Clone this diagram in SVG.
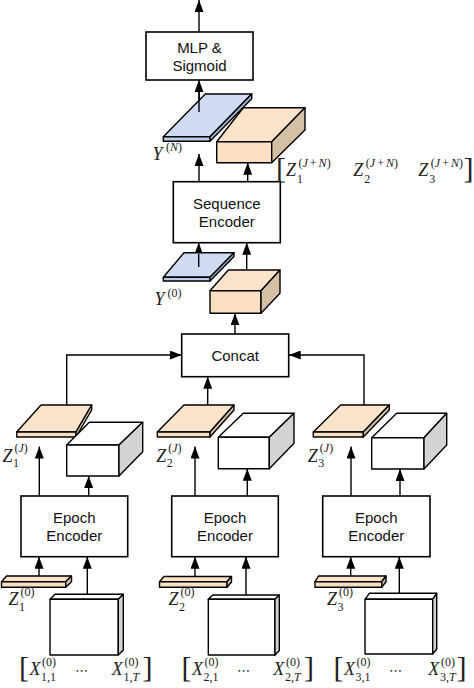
<svg xmlns="http://www.w3.org/2000/svg" width="474" height="688" viewBox="0 0 474 688">
<defs>
<marker id="ah" viewBox="0 0 12 9" refX="12" refY="4.5" markerWidth="12" markerHeight="9" orient="auto" markerUnits="userSpaceOnUse">
<path d="M0,0 L12,4.5 L0,9 z" fill="#000"/>
</marker>
<style>
.box{fill:#fff;stroke:#000;stroke-width:1.6}
.lbl{font-family:"Liberation Sans",Arial,sans-serif;font-size:15px;text-anchor:middle;fill:#111}
.m{font-family:"Liberation Serif","Times New Roman",serif;font-style:italic;font-size:18px;fill:#222}
.sc{font-size:12px}
.up{font-style:normal}
.br{font-family:"Liberation Serif","Times New Roman",serif;font-size:30px;fill:#222}
.dots{font-family:"DejaVu Sans",sans-serif;font-size:13px;fill:#222}
.conn{fill:none;stroke:#000;stroke-width:1.4;marker-end:url(#ah)}
.f{stroke:#000;stroke-width:1.4;stroke-linejoin:round}
.oT{fill:#fde3c9}.oF{fill:#fbdfc1}.oS{fill:#d5c0a6}
.bT{fill:#cfdbf3}.bF{fill:#bccdeb}.bS{fill:#a3b4d3}
.wT{fill:#fff}.wF{fill:#fff}.wS{fill:#d3d3d3}
</style>
</defs>

<!-- connectors -->
<g id="connectors">
<line class="conn" x1="199" y1="32" x2="199" y2="0"/>
<line class="conn" x1="199" y1="112" x2="199" y2="80"/>
<line class="conn" x1="199" y1="181.7" x2="199" y2="154"/>
<line class="conn" x1="247.7" y1="181.7" x2="247.7" y2="162.7"/>
<line class="conn" x1="198.7" y1="267" x2="198.7" y2="242.7"/>
<line class="conn" x1="246.7" y1="270" x2="246.7" y2="242.7"/>
<line class="conn" x1="235" y1="334" x2="235" y2="313.3"/>
<polyline class="conn" points="66.7,405 66.7,355 181.7,355"/>
<line class="conn" x1="207.7" y1="405" x2="207.7" y2="376.7"/>
<polyline class="conn" points="364,405 364,355 288.7,355"/>
<line class="conn" x1="39.3" y1="496" x2="39.3" y2="446.5"/>
<line class="conn" x1="88.7" y1="496" x2="88.7" y2="476"/>
<line class="conn" x1="195" y1="496" x2="195" y2="446.5"/>
<line class="conn" x1="247.3" y1="496" x2="247.3" y2="468.7"/>
<line class="conn" x1="351" y1="496" x2="351" y2="446.5"/>
<line class="conn" x1="400" y1="496" x2="400" y2="469"/>
<line class="conn" x1="39" y1="580" x2="39" y2="556.7"/>
<line class="conn" x1="87.3" y1="594.3" x2="87.3" y2="556.7"/>
<line class="conn" x1="195" y1="580" x2="195" y2="556.7"/>
<line class="conn" x1="246" y1="595" x2="246" y2="556.7"/>
<line class="conn" x1="350.7" y1="580" x2="350.7" y2="556.7"/>
<line class="conn" x1="399.3" y1="593.3" x2="399.3" y2="556.7"/>
</g>

<!-- MLP & Sigmoid -->
<g id="mlp">
<rect class="box" x="146" y="32" width="107" height="48"/>
<text class="lbl" x="199.5" y="53">MLP &amp;</text>
<text class="lbl" x="199.5" y="71">Sigmoid</text>
</g>

<!-- Y(N) slab -->
<g id="yN">
<polygon class="f bT" points="163.3,136.7 205.3,94 251.7,94 210,136.7"/>
<polygon class="f bF" points="163.3,136.7 210,136.7 210,141.3 163.3,141.3"/>
<polygon class="f bS" points="210,136.7 251.7,94 251.7,98.7 210,141.3"/>
<line x1="199" y1="112" x2="199" y2="92" stroke="#000" stroke-width="1.4"/>
<text class="m" x="152.5" y="159.5">Y</text>
<text class="m sc" x="166" y="151"><tspan class="up">(</tspan>N<tspan class="up">)</tspan></text>
</g>

<!-- Z(J+N) box -->
<g id="zJN">
<polygon class="f oT" points="216.7,141.7 243.3,107.7 305,107.7 271.7,141.7"/>
<polygon class="f oF" points="216.7,141.7 271.7,141.7 271.7,162.7 216.7,162.7"/>
<polygon class="f oS" points="271.7,141.7 305,107.7 305,130 271.7,162.7"/>
</g>

<g id="zJN-label">
<text class="br" x="276" y="177.5">[</text>
<text class="m" x="286" y="176">Z</text>
<text class="m sc" x="298.5" y="167"><tspan class="up">(</tspan>J<tspan class="up" dx="2">+</tspan><tspan dx="2">N</tspan><tspan class="up">)</tspan></text>
<text class="m sc up" x="297" y="182.5">1</text>
<text class="m" x="353.3" y="176">Z</text>
<text class="m sc" x="365.8" y="167"><tspan class="up">(</tspan>J<tspan class="up" dx="2">+</tspan><tspan dx="2">N</tspan><tspan class="up">)</tspan></text>
<text class="m sc up" x="364.3" y="182.5">2</text>
<text class="m" x="418.3" y="176">Z</text>
<text class="m sc" x="430.8" y="167"><tspan class="up">(</tspan>J<tspan class="up" dx="2">+</tspan><tspan dx="2">N</tspan><tspan class="up">)</tspan></text>
<text class="m sc up" x="429.3" y="182.5">3</text>
<text class="br" x="463.5" y="177.5">]</text>
</g>

<!-- Sequence Encoder -->
<g id="seqenc">
<rect class="box" x="173.3" y="181.7" width="107" height="61"/>
<text class="lbl" x="226.8" y="208.5">Sequence</text>
<text class="lbl" x="226.8" y="227">Encoder</text>
</g>

<!-- Y(0) slab -->
<g id="y0">
<polygon class="f bT" points="163.3,277.3 184,252.7 234,252.7 210,277.3"/>
<polygon class="f bF" points="163.3,277.3 210,277.3 210,281 163.3,281"/>
<polygon class="f bS" points="210,277.3 234,252.7 234,256.5 210,281"/>
<line x1="198.7" y1="267" x2="198.7" y2="254" stroke="#000" stroke-width="1.4"/>
<text class="m" x="154.5" y="305">Y</text>
<text class="m sc" x="167.5" y="297"><tspan class="up">(0)</tspan></text>
</g>

<!-- Z(J) concat output box -->
<g id="zcat">
<polygon class="f oT" points="210,290.7 228.3,270 280,270 261,290.7"/>
<polygon class="f oF" points="210,290.7 261,290.7 261,313.3 210,313.3"/>
<polygon class="f oS" points="261,290.7 280,270 280,293.3 261,313.3"/>
</g>

<!-- Concat -->
<g id="concat">
<rect class="box" x="181.7" y="334" width="107" height="42.7"/>
<text class="lbl" x="235.2" y="360.5">Concat</text>
</g>

<!-- Column 1 -->
<g id="zJ1">
<polygon class="f oT" points="16.7,432 41,405 91.7,405 76,432"/>
<polygon class="f oF" points="16.7,432 76,432 76,437 16.7,437"/>
<polygon class="f oS" points="76,432 91.7,405 91.7,410 76,437"/>
<text class="m" x="2.5" y="461.5">Z</text>
<text class="m sc" x="14.5" y="452"><tspan class="up">(</tspan>J<tspan class="up">)</tspan></text>
<text class="m sc up" x="13" y="467">1</text>
</g>
<g id="w1">
<polygon class="f wT" points="66.7,445 89.3,422.3 142.7,422.3 119,445"/>
<polygon class="f wF" points="66.7,445 119,445 119,476 66.7,476"/>
<polygon class="f wS" points="119,445 142.7,422.3 142.7,451.7 119,476"/>
</g>
<g id="enc1">
<rect class="box" x="21" y="496" width="106.7" height="60.7"/>
<text class="lbl" x="74.3" y="522.5">Epoch</text>
<text class="lbl" x="74.3" y="541">Encoder</text>
</g>
<g id="z01">
<polygon class="f oT" points="1.5,581.7 6.5,576 71.5,576 65.7,581.7"/>
<polygon class="f oF" points="1.5,581.7 65.7,581.7 65.7,587.3 1.5,587.3"/>
<polygon class="f oS" points="65.7,581.7 71.5,576 71.5,581.7 65.7,587.3"/>
<text class="m" x="8.5" y="605">Z</text>
<text class="m sc" x="20.5" y="596"><tspan class="up">(0)</tspan></text>
<text class="m sc up" x="19" y="610.5">1</text>
</g>
<g id="x1">
<polygon class="f wT" points="50,599.3 55,594.3 123.3,594.3 118.3,599.3"/>
<polygon class="f wF" points="50,599.3 118.3,599.3 118.3,655 50,655"/>
<polygon class="f wS" points="118.3,599.3 123.3,594.3 123.3,650 118.3,655"/>
</g>
<g id="x1-label">
<text class="br" x="19" y="676.5">[</text>
<text class="m" x="29.5" y="675">X</text>
<text class="m sc up" x="42" y="665.5">(0)</text>
<text class="m sc up" x="41" y="680.5">1,1</text>
<text class="dots" x="75" y="675">⋯</text>
<text class="m" x="111.7" y="675">X</text>
<text class="m sc up" x="124.5" y="665.5">(0)</text>
<text class="m sc up" x="123.5" y="680.5">1,<tspan font-style="italic">T</tspan></text>
<text class="br" x="142.5" y="676.5">]</text>
</g>

<!-- Column 2 -->
<g id="zJ2">
<polygon class="f oT" points="157.3,432 184,405 234,405 210,432"/>
<polygon class="f oF" points="157.3,432 210,432 210,437 157.3,437"/>
<polygon class="f oS" points="210,432 234,405 234,410 210,437"/>
<text class="m" x="156.2" y="461.5">Z</text>
<text class="m sc" x="168.2" y="452"><tspan class="up">(</tspan>J<tspan class="up">)</tspan></text>
<text class="m sc up" x="166.7" y="467">2</text>
</g>
<g id="w2">
<polygon class="f wT" points="218.3,437.3 243.3,413.3 294,413.3 269.3,437.3"/>
<polygon class="f wF" points="218.3,437.3 269.3,437.3 269.3,468.7 218.3,468.7"/>
<polygon class="f wS" points="269.3,437.3 294,413.3 294,443.3 269.3,468.7"/>
</g>
<g id="enc2">
<rect class="box" x="171.7" y="496" width="106.6" height="60.7"/>
<text class="lbl" x="225" y="522.5">Epoch</text>
<text class="lbl" x="225" y="541">Encoder</text>
</g>
<g id="z02">
<polygon class="f oT" points="159.5,581.7 164,576.5 231.5,576.5 227,581.7"/>
<polygon class="f oF" points="159.5,581.7 227,581.7 227,587.3 159.5,587.3"/>
<polygon class="f oS" points="227,581.7 231.5,576.5 231.5,582 227,587.3"/>
<text class="m" x="168.5" y="605">Z</text>
<text class="m sc" x="180.5" y="596"><tspan class="up">(0)</tspan></text>
<text class="m sc up" x="179" y="610.5">2</text>
</g>
<g id="x2">
<polygon class="f wT" points="208.3,599.3 212.7,595 279.3,595 275,599.3"/>
<polygon class="f wF" points="208.3,599.3 275,599.3 275,655 208.3,655"/>
<polygon class="f wS" points="275,599.3 279.3,595 279.3,650.5 275,655"/>
</g>
<g id="x2-label">
<text class="br" x="181.5" y="676.5">[</text>
<text class="m" x="192" y="675">X</text>
<text class="m sc up" x="204.5" y="665.5">(0)</text>
<text class="m sc up" x="203.5" y="680.5">2,1</text>
<text class="dots" x="237" y="675">⋯</text>
<text class="m" x="273.3" y="675">X</text>
<text class="m sc up" x="286" y="665.5">(0)</text>
<text class="m sc up" x="285" y="680.5">2,<tspan font-style="italic">T</tspan></text>
<text class="br" x="304" y="676.5">]</text>
</g>

<!-- Column 3 -->
<g id="zJ3">
<polygon class="f oT" points="313.3,432 340.7,405 389.3,405 363.3,432"/>
<polygon class="f oF" points="313.3,432 363.3,432 363.3,437 313.3,437"/>
<polygon class="f oS" points="363.3,432 389.3,405 389.3,410 363.3,437"/>
<text class="m" x="307.8" y="461.5">Z</text>
<text class="m sc" x="319.8" y="452"><tspan class="up">(</tspan>J<tspan class="up">)</tspan></text>
<text class="m sc up" x="318.3" y="467">3</text>
</g>
<g id="w3">
<polygon class="f wT" points="371.7,437.7 396.7,413.3 446.7,413.3 424,437.7"/>
<polygon class="f wF" points="371.7,437.7 424,437.7 424,469 371.7,469"/>
<polygon class="f wS" points="424,437.7 446.7,413.3 446.7,445 424,469"/>
</g>
<g id="enc3">
<rect class="box" x="322.7" y="496" width="107.3" height="60.7"/>
<text class="lbl" x="376.3" y="522.5">Epoch</text>
<text class="lbl" x="376.3" y="541">Encoder</text>
</g>
<g id="z03">
<polygon class="f oT" points="315,581.7 318.5,576 386,576 381.7,581.7"/>
<polygon class="f oF" points="315,581.7 381.7,581.7 381.7,587.3 315,587.3"/>
<polygon class="f oS" points="381.7,581.7 386,576 386,581.7 381.7,587.3"/>
<text class="m" x="327" y="605">Z</text>
<text class="m sc" x="339" y="596"><tspan class="up">(0)</tspan></text>
<text class="m sc up" x="337.5" y="610.5">3</text>
</g>
<g id="x3">
<polygon class="f wT" points="365,599.3 369.3,593.3 436.7,593.3 432.7,599.3"/>
<polygon class="f wF" points="365,599.3 432.7,599.3 432.7,654 365,654"/>
<polygon class="f wS" points="432.7,599.3 436.7,593.3 436.7,649 432.7,654"/>
</g>
<g id="x3-label">
<text class="br" x="333.5" y="676.5">[</text>
<text class="m" x="344" y="675">X</text>
<text class="m sc up" x="356.5" y="665.5">(0)</text>
<text class="m sc up" x="355.5" y="680.5">3,1</text>
<text class="dots" x="389" y="675">⋯</text>
<text class="m" x="428.3" y="675">X</text>
<text class="m sc up" x="441" y="665.5">(0)</text>
<text class="m sc up" x="440" y="680.5">3,<tspan font-style="italic">T</tspan></text>
<text class="br" x="456.5" y="676.5">]</text>
</g>
</svg>
